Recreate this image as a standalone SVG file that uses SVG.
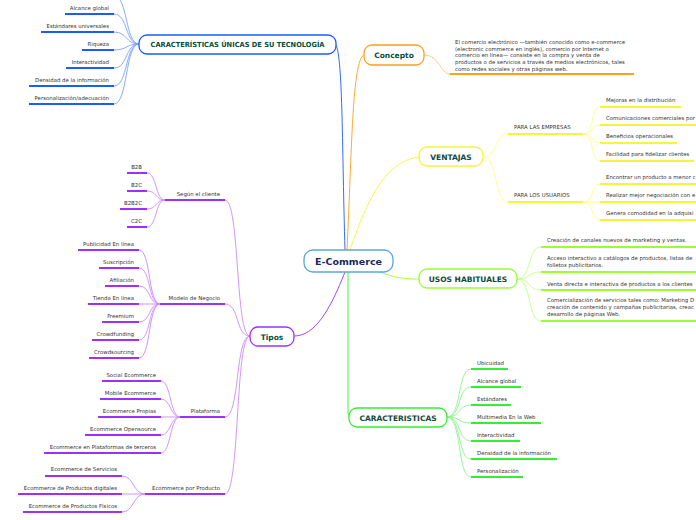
<svg xmlns="http://www.w3.org/2000/svg" width="696" height="520" viewBox="0 0 696 520">
<style>
text{font-family:"DejaVu Sans",Verdana,sans-serif;font-size:5.4px;fill:#333}
.t{font-weight:bold;font-size:7.5px;fill:#0d4a3a;text-anchor:middle}
.r{text-anchor:end}
.n{fill:#fff;stroke-width:1.3}
.c{fill:none;stroke-width:0.9}
.u{stroke-width:1.8;fill:none}
.B{stroke:#1a5cff}.O{stroke:#ff9f1a}.Y{stroke:#f5f53a}.L{stroke:#99ff33}.G{stroke:#33ee33}.P{stroke:#9b30ff}
.lB{stroke:#7aa0ff}.lO{stroke:#ffc77a}.lY{stroke:#ffff88}.lL{stroke:#c2ff8a}.lG{stroke:#8af58a}.lP{stroke:#c98aff}
</style>
<g id="connectors">
<path class="c B" stroke-width="1.3" d="M345 250 C342 150 343 60 336 45"/>
<path class="c O" stroke-width="1.3" d="M347 250 C352 150 352 60 364 55"/>
<path class="c Y" stroke-width="1.3" d="M350 250 C370 190 390 160 419 157"/>
<path class="c L" stroke-width="1.3" d="M380 272 C395 278 405 279 419 279"/>
<path class="c G" stroke-width="1.3" d="M348 272 L348 410 C348 415 349 417 350 417"/>
<path class="c P" stroke-width="1.3" d="M345 272 C330 310 315 336 294 336"/>
<path class="c lO" d="M424 55 C440 55 440 74 450 74"/>
<g class="c lB">
<path d="M114 -4 C128 -4 125 44 139 44"/><path d="M114 14 C128 14 125 44 139 44"/><path d="M114 32 C128 32 125 44 139 44"/><path d="M114 50 C128 50 125 44 139 44"/><path d="M114 68 C128 68 125 44 139 44"/><path d="M114 86 C128 86 125 44 139 44"/><path d="M114 104 C128 104 125 44 139 44"/>
</g>
<g class="c lY">
<path d="M483 157 C498 157 494 134 508 134"/><path d="M483 157 C498 157 494 202 508 202"/>
<path d="M583 134 C595 134 590 107 600 107"/><path d="M583 134 C595 134 590 125 600 125"/><path d="M583 134 C595 134 590 143 600 143"/><path d="M583 134 C595 134 590 161 600 161"/>
<path d="M583 202 C595 202 590 184 600 184"/><path d="M583 202 L600 202"/><path d="M583 202 C595 202 590 220 600 220"/>
</g>
<g class="c lL">
<path d="M517 279 C532 279 527 247 541 247"/><path d="M517 279 C532 279 527 272 541 272"/><path d="M517 279 C532 279 527 290 541 290"/><path d="M517 279 C532 279 527 321 541 321"/>
</g>
<g class="c lG">
<path d="M447 417 C462 417 457 369 471 369"/><path d="M447 417 C462 417 457 387 471 387"/><path d="M447 417 C462 417 457 405 471 405"/><path d="M447 417 C462 417 457 423 471 423"/><path d="M447 417 C462 417 457 441 471 441"/><path d="M447 417 C462 417 457 459 471 459"/><path d="M447 417 C462 417 457 477 471 477"/>
</g>
<g class="c lP">
<path d="M250 336 C235 336 240 200 225 200"/><path d="M250 336 C235 336 240 304 225 304"/><path d="M250 336 C235 336 240 417 225 417"/><path d="M250 336 C235 336 240 494 225 494"/>
<path d="M165 200 C155 200 157 173 147 173"/><path d="M165 200 C155 200 157 191 147 191"/><path d="M165 200 C155 200 157 209 147 209"/><path d="M165 200 C155 200 157 227 147 227"/>
<path d="M160 304 C148 304 151 250 139 250"/><path d="M160 304 C148 304 151 268 139 268"/><path d="M160 304 C148 304 151 286 139 286"/><path d="M160 304 L139 304"/><path d="M160 304 C148 304 151 322 139 322"/><path d="M160 304 C148 304 151 340 139 340"/><path d="M160 304 C148 304 151 358 139 358"/>
<path d="M180 417 C170 417 171 381 161 381"/><path d="M180 417 C170 417 171 399 161 399"/><path d="M180 417 L161 417"/><path d="M180 417 C170 417 171 435 161 435"/><path d="M180 417 C170 417 171 453 161 453"/>
<path d="M145 494 C133 494 134 476 122 476"/><path d="M145 494 L122 494"/><path d="M145 494 C133 494 134 512 122 512"/>
</g>
</g>
<g id="center"><rect class="n" x="304" y="250" width="89" height="22" rx="9" stroke="#5aa6e0"/><text class="t" x="348.5" y="264.5" style="font-size:9.5px;fill:#1a2a5a">E-Commerce</text></g>
<g id="caract-unicas"><rect class="n B" x="139" y="35" width="197" height="19" rx="8"/><text class="t" x="237.5" y="47" style="font-size:7px" textLength="174" lengthAdjust="spacingAndGlyphs">CARACTERÍSTICAS ÚNICAS DE SU TECNOLOGÍA</text>
<g class="u B"><path d="M85 -4H114M65 14H114M41 32H114M82 50H114M66 68H114M29 86H114M29 104H114"/></g>
<text class="r" x="109" y="10">Alcance global</text><text class="r" x="109" y="28">Estándares universales</text><text class="r" x="109" y="46">Riqueza</text><text class="r" x="109" y="64">Interactividad</text><text class="r" x="109" y="82">Densidad de la información</text><text class="r" x="109" y="100">Personalización/adecuación</text>
</g>
<g id="concepto"><rect class="n O" x="364" y="45" width="60" height="20" rx="8"/><text class="t" x="394" y="58">Concepto</text>
<path class="u O" d="M450 74H634"/>
<text x="455" y="44">El comercio electrónico —también conocido como e-commerce</text><text x="455" y="50.7">(electronic commerce en inglés), comercio por Internet o</text><text x="455" y="57.4">comercio en línea— consiste en la compra y venta de</text><text x="455" y="64.1">productos o de servicios a través de medios electrónicos, tales</text><text x="455" y="70.8">como redes sociales y otras páginas web.</text>
</g>
<g id="ventajas"><rect class="n Y" x="419" y="147" width="64" height="19" rx="8"/><text class="t" x="451" y="159.5">VENTAJAS</text>
<g class="u Y"><path d="M508 134H583M508 202H583M600 107H681M600 125H696M600 143H677M600 161H694M600 184H696M600 202H696M600 220H696"/></g>
<text x="514" y="129">PARA LAS EMPRESAS</text><text x="514" y="197">PARA LOS USUARIOS</text>
<text x="606" y="102">Mejoras en la distribución</text><text x="606" y="120">Comunicaciones comerciales por</text><text x="606" y="138">Beneficios operacionales</text><text x="606" y="156">Facilidad para fidelizar clientes</text><text x="606" y="179">Encontrar un producto a menor c</text><text x="606" y="197">Realizar mejor negociación con e</text><text x="606" y="215">Genera comodidad en la adquisi</text>
</g>
<g id="usos"><rect class="n L" x="419" y="269" width="98" height="19" rx="8"/><text class="t" x="468" y="281.5">USOS HABITUALES</text>
<g class="u L"><path d="M541 247H696M541 272H696M541 290H696M541 321H696"/></g>
<text x="547" y="242">Creación de canales nuevos de marketing y ventas.</text><text x="547" y="260">Acceso interactivo a catálogos de productos, listas de</text><text x="547" y="267">folletos publicitarios.</text><text x="547" y="286">Venta directa e interactiva de productos a los clientes</text><text x="547" y="302">Comercialización de servicios tales como: Marketing D</text><text x="547" y="309">creación de contenido y campañas publicitarias, creac</text><text x="547" y="316">desarrollo de páginas Web.</text>
</g>
<g id="caracteristicas"><rect class="n G" x="349" y="408" width="98" height="19" rx="8"/><text class="t" x="398" y="420.5">CARACTERISTICAS</text>
<g class="u G"><path d="M471 369H508M471 387H521M471 405H511M471 423H541M471 441H520M471 459H557M471 477H523"/></g>
<text x="477" y="365">Ubicuidad</text><text x="477" y="383">Alcance global</text><text x="477" y="401">Estándares</text><text x="477" y="419">Multimedia En la Web</text><text x="477" y="437">Interactividad</text><text x="477" y="455">Densidad de la información</text><text x="477" y="473">Personalización</text>
</g>
<g id="tipos"><rect class="n P" x="250" y="327" width="44" height="19" rx="8"/><text class="t" x="272" y="339.5">Tipos</text>
<g class="u P"><path d="M165 200H225M160 304H225M180 417H225M145 494H225M127 173H147M127 191H147M120 209H147M127 227H147M78 250H139M99 268H139M105 286H139M88 304H139M102 322H139M92 340H139M89 358H139M102 381H161M100 399H161M98 417H161M85 435H161M44 453H161M45 476H122M18 494H122M23 512H122"/></g>
<text class="r" x="220" y="196">Según el cliente</text><text class="r" x="220" y="300">Modelo de Negocio</text><text class="r" x="220" y="413">Plataforma</text><text class="r" x="220" y="490">Ecommerce por Producto</text>
<text class="r" x="142" y="169">B2B</text><text class="r" x="142" y="187">B2C</text><text class="r" x="142" y="205">B2B2C</text><text class="r" x="142" y="223">C2C</text>
<text class="r" x="134" y="246">Publicidad En línea</text><text class="r" x="134" y="264">Suscripción</text><text class="r" x="134" y="282">Afiliación</text><text class="r" x="134" y="300">Tienda En línea</text><text class="r" x="134" y="318">Freemium</text><text class="r" x="134" y="336">Crowdfunding</text><text class="r" x="134" y="354">Crowdsourcing</text>
<text class="r" x="156" y="377">Social Ecommerce</text><text class="r" x="156" y="395">Mobile Ecommerce</text><text class="r" x="156" y="413">Ecommerce Propias</text><text class="r" x="156" y="431">Ecommerce Opensource</text><text class="r" x="156" y="449">Ecommerce en Plataformas de terceros</text>
<text class="r" x="117" y="471">Ecommerce de Servicios</text><text class="r" x="117" y="490">Ecommerce de Productos digitales</text><text class="r" x="117" y="508">Ecommerce de Productos Físicos</text>
</g>
</svg>
